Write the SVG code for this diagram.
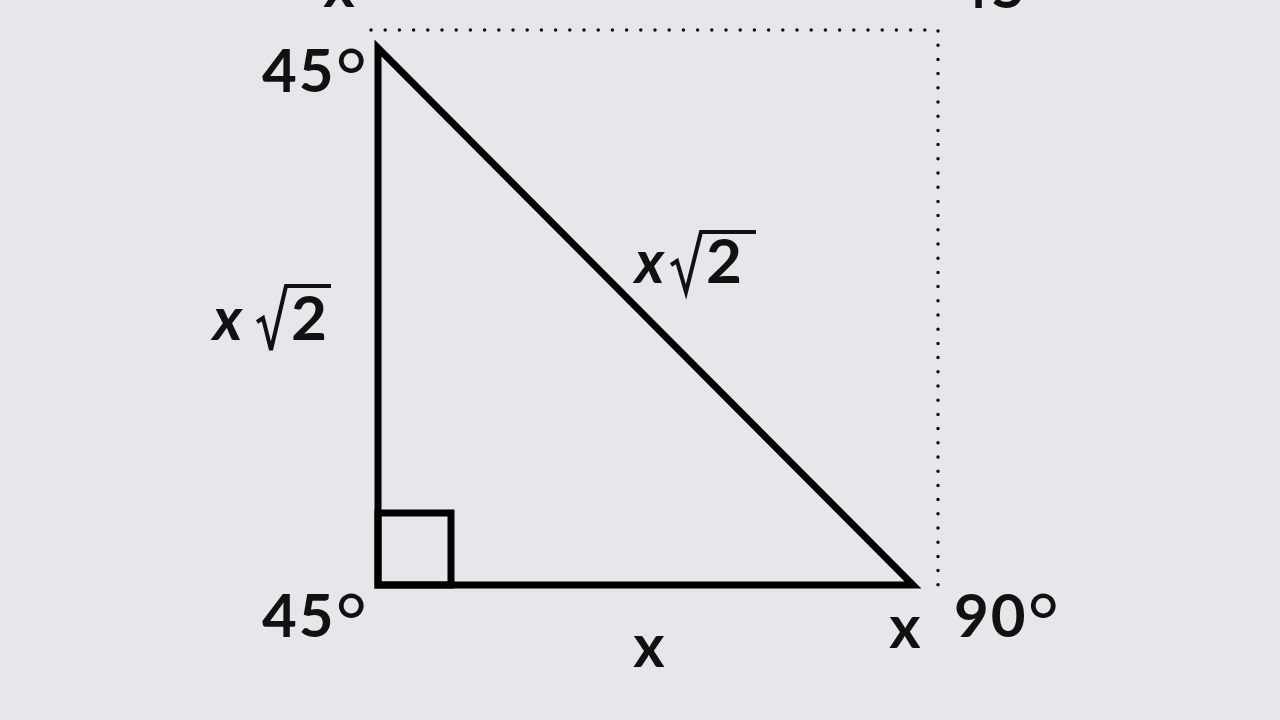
<svg xmlns="http://www.w3.org/2000/svg" width="1280" height="720" viewBox="0 0 1280 720">
<style>
.t{font-family:Lato,"Liberation Sans",sans-serif;font-weight:bold;fill:#111;letter-spacing:2px;}
.it{font-family:Lato,"Liberation Sans",sans-serif;font-weight:bold;font-style:italic;fill:#111;}
.deg{font-size:76px;font-weight:normal;}
.rad{stroke:#111;stroke-width:4;fill:none;stroke-linejoin:miter;}
.dot{stroke:#111;stroke-width:3.5;stroke-linecap:round;stroke-dasharray:0 14.2;fill:none;}
.shape{stroke:#000;stroke-width:7;fill:none;}
</style>
<rect width="1280" height="720" fill="#e6e7ea"/>
<g id="connectors">
<path class="dot" d="M371 30 H938 V590"/>
</g>
<g id="triangle">
<path class="shape" d="M378 48 L378 585 L913 585 Z" stroke-linejoin="miter"/>
<rect class="shape" x="378" y="513" width="73" height="72"/>
</g>
<g id="labels">
<text class="t" x="340" y="7" font-size="60" text-anchor="middle">x</text>
<text class="t" x="954" y="8" font-size="60">45</text>
<text class="t" x="262" y="92" font-size="60">45<tspan class="deg" dy="12">°</tspan></text>
<text class="t" x="262" y="637" font-size="60">45<tspan class="deg" dy="12">°</tspan></text>
<text class="t" x="954" y="637" font-size="60">90<tspan class="deg" dy="12">°</tspan></text>
<text class="t" x="650" y="667" font-size="60" text-anchor="middle">x</text>
<text class="t" x="906" y="648" font-size="60" text-anchor="middle">x</text>
</g>
<g id="leg-label">
<text class="it" x="213" y="340" font-size="60">x</text>
<polyline class="rad" points="257,322 263,318 271,350 286,286 331,286"/>
<text class="t" x="291" y="340" font-size="62">2</text>
</g>
<g id="hyp-label">
<text class="it" x="635" y="283" font-size="60">x</text>
<polyline class="rad" points="671,265 677,261 686,292 701,232 756,232"/>
<text class="t" x="706" y="283" font-size="62">2</text>
</g>
</svg>
